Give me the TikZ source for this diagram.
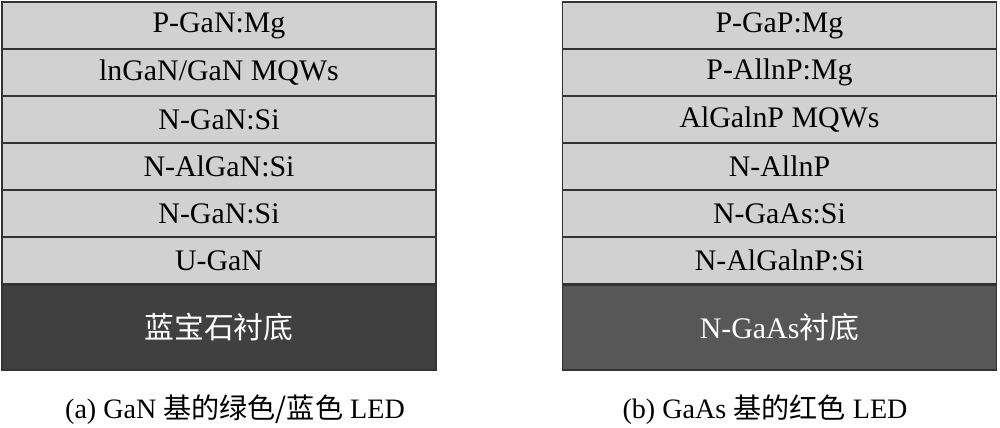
\documentclass[tikz,border=0pt]{standalone}
\usepackage{fontspec}
\setmainfont{Liberation Serif}
\newfontfamily\cjk{Noto Sans CJK SC}
\begin{document}
\begin{tikzpicture}[x=0.02cm,y=-0.02cm,
  layer/.style={draw=black!80,line width=0.8pt,fill=black!18,minimum width=434*0.02cm,minimum height=47*0.02cm,inner sep=0pt,font=\fontsize{17}{19}\selectfont},
  sub/.style={layer,minimum height=85*0.02cm,text=white},
  captext/.style={font=\fontsize{16}{18}\selectfont}]
\useasboundingbox (0,0) rectangle (1000,427);
\foreach \t [count=\i] in {P-GaN:Mg,lnGaN/GaN MQWs,N-GaN:Si,N-AlGaN:Si,N-GaN:Si,U-GaN}
  \node[layer] (a\i) at (219,{2+47*(\i-0.5)}) {\t};
\node[sub,fill=black!75] (as) at (219,327.5) {\cjk 蓝宝石衬底};
\foreach \t [count=\i] in {P-GaP:Mg,P-AllnP:Mg,AlGalnP MQWs,N-AllnP,N-GaAs:Si,N-AlGalnP:Si}
  \node[layer] (b\i) at (779.5,{2+47*(\i-0.5)}) {\t};
\node[sub,fill=black!66] (bs) at (779.5,327.5) {N-GaAs{\cjk 衬底}};
\node[captext] (ca) at (235,410) {(a)\ GaN {\cjk 基的绿色/蓝色} LED};
\node[captext] (cb) at (765,410) {(b)\ GaAs {\cjk 基的红色} LED};
\end{tikzpicture}
\end{document}
